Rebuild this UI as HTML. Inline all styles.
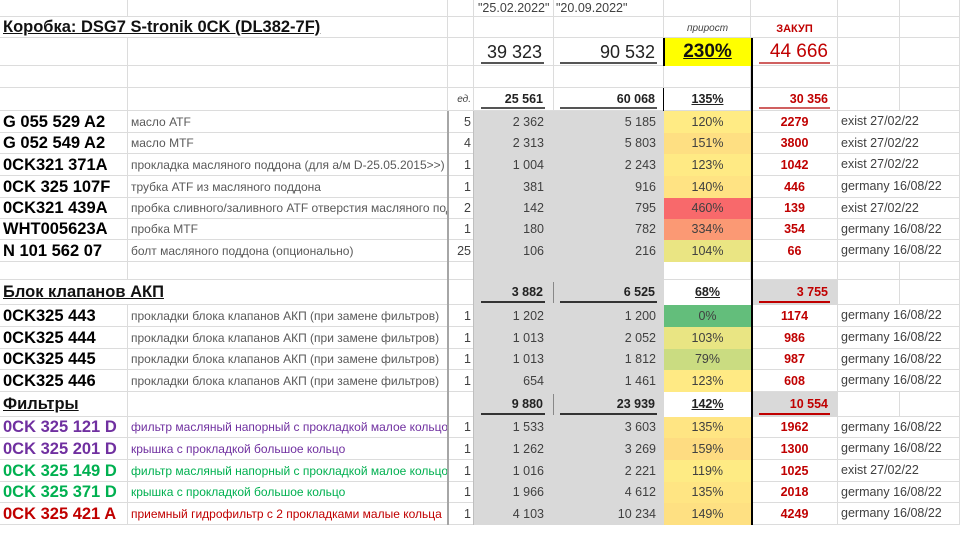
<!DOCTYPE html>
<html><head><meta charset="utf-8">
<style>
html,body{margin:0;padding:0;background:#fff;}
#sheet{position:relative;width:960px;height:543px;overflow:hidden;font-family:"Liberation Sans","DejaVu Sans",sans-serif;}
.g{position:absolute;box-sizing:border-box;border-right:1px solid #dcdcdc;border-bottom:1px solid #dcdcdc;}
.t{position:absolute;box-sizing:border-box;white-space:nowrap;overflow:visible;}
.ln{position:absolute;}
</style></head>
<body>
<div id="sheet"></div>
<script>
const colX=[0,128,448,474,554,664,751,838,900,960];
const rowY=[0,17,38,66,88,111,133,154,176,198,219,240,262,280,305,327,349,370,392,417,438,460,482,503,525];

const partNos=["G 055 529 A2","G 052 549 A2","0CK321 371A","0CK 325 107F","0CK321 439A","WHT005623A","N 101 562 07",
"0CK325 443","0CK325 444","0CK325 445","0CK325 446",
"0CK 325 121 D","0CK 325 201 D","0CK 325 149 D","0CK 325 371 D","0CK 325 421 A"];
const descs=["масло ATF","масло MTF","прокладка масляного поддона (для а/м D-25.05.2015>>)","трубка ATF из масляного поддона","пробка сливного/заливного ATF отверстия масляного под","пробка MTF","болт масляного поддона (опционально)",
"прокладки блока клапанов АКП (при замене фильтров)","прокладки блока клапанов АКП (при замене фильтров)","прокладки блока клапанов АКП (при замене фильтров)","прокладки блока клапанов АКП (при замене фильтров)",
"фильтр масляный напорный с прокладкой малое кольцо","крышка с прокладкой большое кольцо","фильтр масляный напорный с прокладкой малое кольцо","крышка с прокладкой большое кольцо","приемный гидрофильтр с 2 прокладками малые кольца"];
const qty=[5,4,1,1,2,1,25,1,1,1,1,1,1,1,1,1];
const priceOld=["2 362","2 313","1 004","381","142","180","106","1 202","1 013","1 013","654","1 533","1 262","1 016","1 966","4 103"];
const priceNew=["5 185","5 803","2 243","916","795","782","216","1 200","2 052","1 812","1 461","3 603","3 269","2 221","4 612","10 234"];
const growth=[120,151,123,140,460,334,104,0,103,79,123,135,159,119,135,149];
const purchase=[2279,3800,1042,446,139,354,66,1174,986,987,608,1962,1300,1025,2018,4249];
const source=["exist 27/02/22","exist 27/02/22","exist 27/02/22","germany 16/08/22","exist 27/02/22","germany 16/08/22","germany 16/08/22",
"germany 16/08/22","germany 16/08/22","germany 16/08/22","germany 16/08/22",
"germany 16/08/22","germany 16/08/22","exist 27/02/22","germany 16/08/22","germany 16/08/22"];
const partColors=["#000","#000","#000","#000","#000","#000","#000","#000","#000","#000","#000","#7030a0","#7030a0","#00b050","#00b050","#c00000"];
const itemRows=[5,6,7,8,9,10,11,14,15,16,17,19,20,21,22,23];
const sectionRows=[13,18];
const sectionNames=["Блок клапанов АКП","Фильтры"];
const sectionOld=["3 882","9 880"];
const sectionNew=["6 525","23 939"];
const sectionGrowth=["68%","142%"];
const sectionPurchase=["3 755","10 554"];

const S=document.getElementById('sheet');
function box(cls,x,y,w,h,css){const d=document.createElement('div');d.className=cls;d.style.left=x+'px';d.style.top=y+'px';d.style.width=w+'px';d.style.height=h+'px';if(css)d.style.cssText+=css;S.appendChild(d);return d;}
function cellRect(c,r){return [colX[c],rowY[r],colX[c+1]-colX[c],rowY[r+1]-rowY[r]];}
function txt(c,r,text,css,span){const [x,y,w,h]=cellRect(c,r);let ww=w;if(span)ww=colX[c+span]-x;const d=box('t',x,y,ww,h,'line-height:'+h+'px;'+(css||''));d.textContent=text;return d;}
function ovr(c,r,text,css){const [x,y,w,h]=cellRect(c,r);const d=box('t',x,y,0,h-1,'width:auto;background:#fff;line-height:'+(h-1)+'px;'+(css||''));d.textContent=text;return d;}
function heat(v){const lo=0,mid=120,hi=460;const G=[99,190,123],Y=[255,235,132],R=[248,105,107];let a,b,t;if(v<=mid){a=G;b=Y;t=(v-lo)/(mid-lo);}else{a=Y;b=R;t=(v-mid)/(hi-mid);}t=Math.max(0,Math.min(1,t));return 'rgb('+a.map((q,i)=>Math.round(q+(b[i]-q)*t)).join(',')+')';}

for(let r=0;r<24;r++){for(let c=0;c<9;c++){const [x,y,w,h]=cellRect(c,r);const g=box('g',x,y,w,h);

}}
for(let r=5;r<24;r++){for(const c of [3,4]){const [x,y,w,h]=cellRect(c,r);box('g',x,y,w,h,'background:#d9d9d9;border-color:#d9d9d9;');}}
box('ln',447,111,2,414,'background:#a6a6a6;');
box('ln',473,111,1,414,'background:#bfbfbf;');
box('ln',663,38,1,28,'background:#000;');
box('ln',663,88,1,23,'background:#000;');

txt(3,0,'"25.02.2022"','font-size:12.5px;color:#404040;padding-left:4px;line-height:16px;');
txt(4,0,'"20.09.2022"','font-size:12.5px;color:#404040;padding-left:2px;line-height:16px;');
let e=ovr(0,1,'Коробка: DSG7 S-tronik 0CK (DL382-7F)','font-size:16.5px;font-weight:bold;text-decoration:underline;padding-left:3px;padding-right:4px;color:#111;');


txt(5,1,'прирост','font-size:10px;font-style:italic;color:#404040;text-align:center;line-height:24px;');
txt(6,1,'ЗАКУП','font-size:11px;font-weight:bold;color:#c00000;text-align:center;line-height:24px;');
{const [x,y,w,h]=cellRect(5,2);box('g',x,y,w,h,'background:#ffff00;border-color:#ffff00;');}
box('ln',663,38,2,28,'background:#000;');
function ul(c,r,text,fs,color,lineColor,x0,x1,bold){txt(c,r,text,'font-size:'+fs+'px;color:'+color+';text-align:right;'+(bold?'font-weight:bold;':'')+'padding-right:'+(colX[c+1]-x1+2)+'px;');box('ln',x0,rowY[r+1]-4,x1-x0,2,'background:'+lineColor+';');}
ul(3,2,'39 323',18,'#222','#555',481,544,false);
ul(4,2,'90 532',18,'#222','#555',560,657,false);
e=txt(5,2,'230%','font-size:19px;font-weight:bold;text-decoration:underline;text-align:center;color:#111;');


ul(6,2,'44 666',19,'#c00000','#d06060',759,830,false);
txt(2,4,'ед.','font-size:10px;font-style:italic;color:#404040;text-align:right;padding-right:3px;');
ul(3,4,'25 561',12.5,'#222','#555',481,545,true);
ul(4,4,'60 068',12.5,'#222','#555',560,657,true);
txt(5,4,'135%','font-size:12.5px;font-weight:bold;text-decoration:underline;text-align:center;color:#222;');
ul(6,4,'30 356',12.5,'#c00000','#d06060',759,830,true);

for(let i=0;i<itemRows.length;i++){const r=itemRows[i];
 const [fx,fy,fw,fh]=cellRect(5,r);
 const hc=box('g',fx,fy,fw,fh,'background:'+heat(growth[i])+';border-color:'+heat(growth[i])+';');
 
 
 e=txt(0,r,partNos[i],'font-size:16.5px;font-weight:bold;padding-left:3px;color:'+partColors[i]+';');
 
 
 const dc=partColors[i]==='#000'?'#595959':partColors[i];
 e=txt(1,r,descs[i],'font-size:12px;padding-left:3px;color:'+dc+';width:319px;overflow:hidden;');
 
 
 txt(2,r,String(qty[i]),'font-size:12.5px;color:#404040;text-align:right;padding-right:3px;');
 txt(3,r,priceOld[i],'font-size:12.5px;color:#404040;text-align:right;padding-right:10px;');
 txt(4,r,priceNew[i],'font-size:12.5px;color:#404040;text-align:right;padding-right:8px;');
 txt(5,r,growth[i]+'%','font-size:12.5px;color:#404040;text-align:center;');
 e=txt(6,r,String(purchase[i]),'font-size:12.5px;font-weight:bold;color:#c00000;text-align:center;');
 
 
 e=ovr(7,r,source[i],'font-size:12.5px;color:#404040;padding-left:3px;padding-right:3px;');
 
 
}
for(let s=0;s<sectionRows.length;s++){const r=sectionRows[s];
 {const [x,y,w,h]=cellRect(6,r);box('g',x,y,w,h,'background:#d9d9d9;border-color:#d9d9d9;');}
 box('ln',553,rowY[r]+2,1,rowY[r+1]-rowY[r]-4,'background:#888;');
 e=ovr(0,r,sectionNames[s],'font-size:16.5px;font-weight:bold;text-decoration:underline;padding-left:3px;padding-right:4px;color:#111;');
 
 
 ul(3,r,sectionOld[s],12.5,'#222','#333',481,545,true);
 ul(4,r,sectionNew[s],12.5,'#222','#333',560,657,true);
 {const [x,y,w,h]=cellRect(5,r);box('g',x,y,w,h,'background:#fff;border-color:#fff;');}
 txt(5,r,sectionGrowth[s],'font-size:12.5px;font-weight:bold;text-decoration:underline;text-align:center;color:#222;');
 ul(6,r,sectionPurchase[s],12.5,'#c00000','#c00000',759,830,true);
}
box('ln',751,38,2,487,'background:#000;');
</script>
</body></html>
